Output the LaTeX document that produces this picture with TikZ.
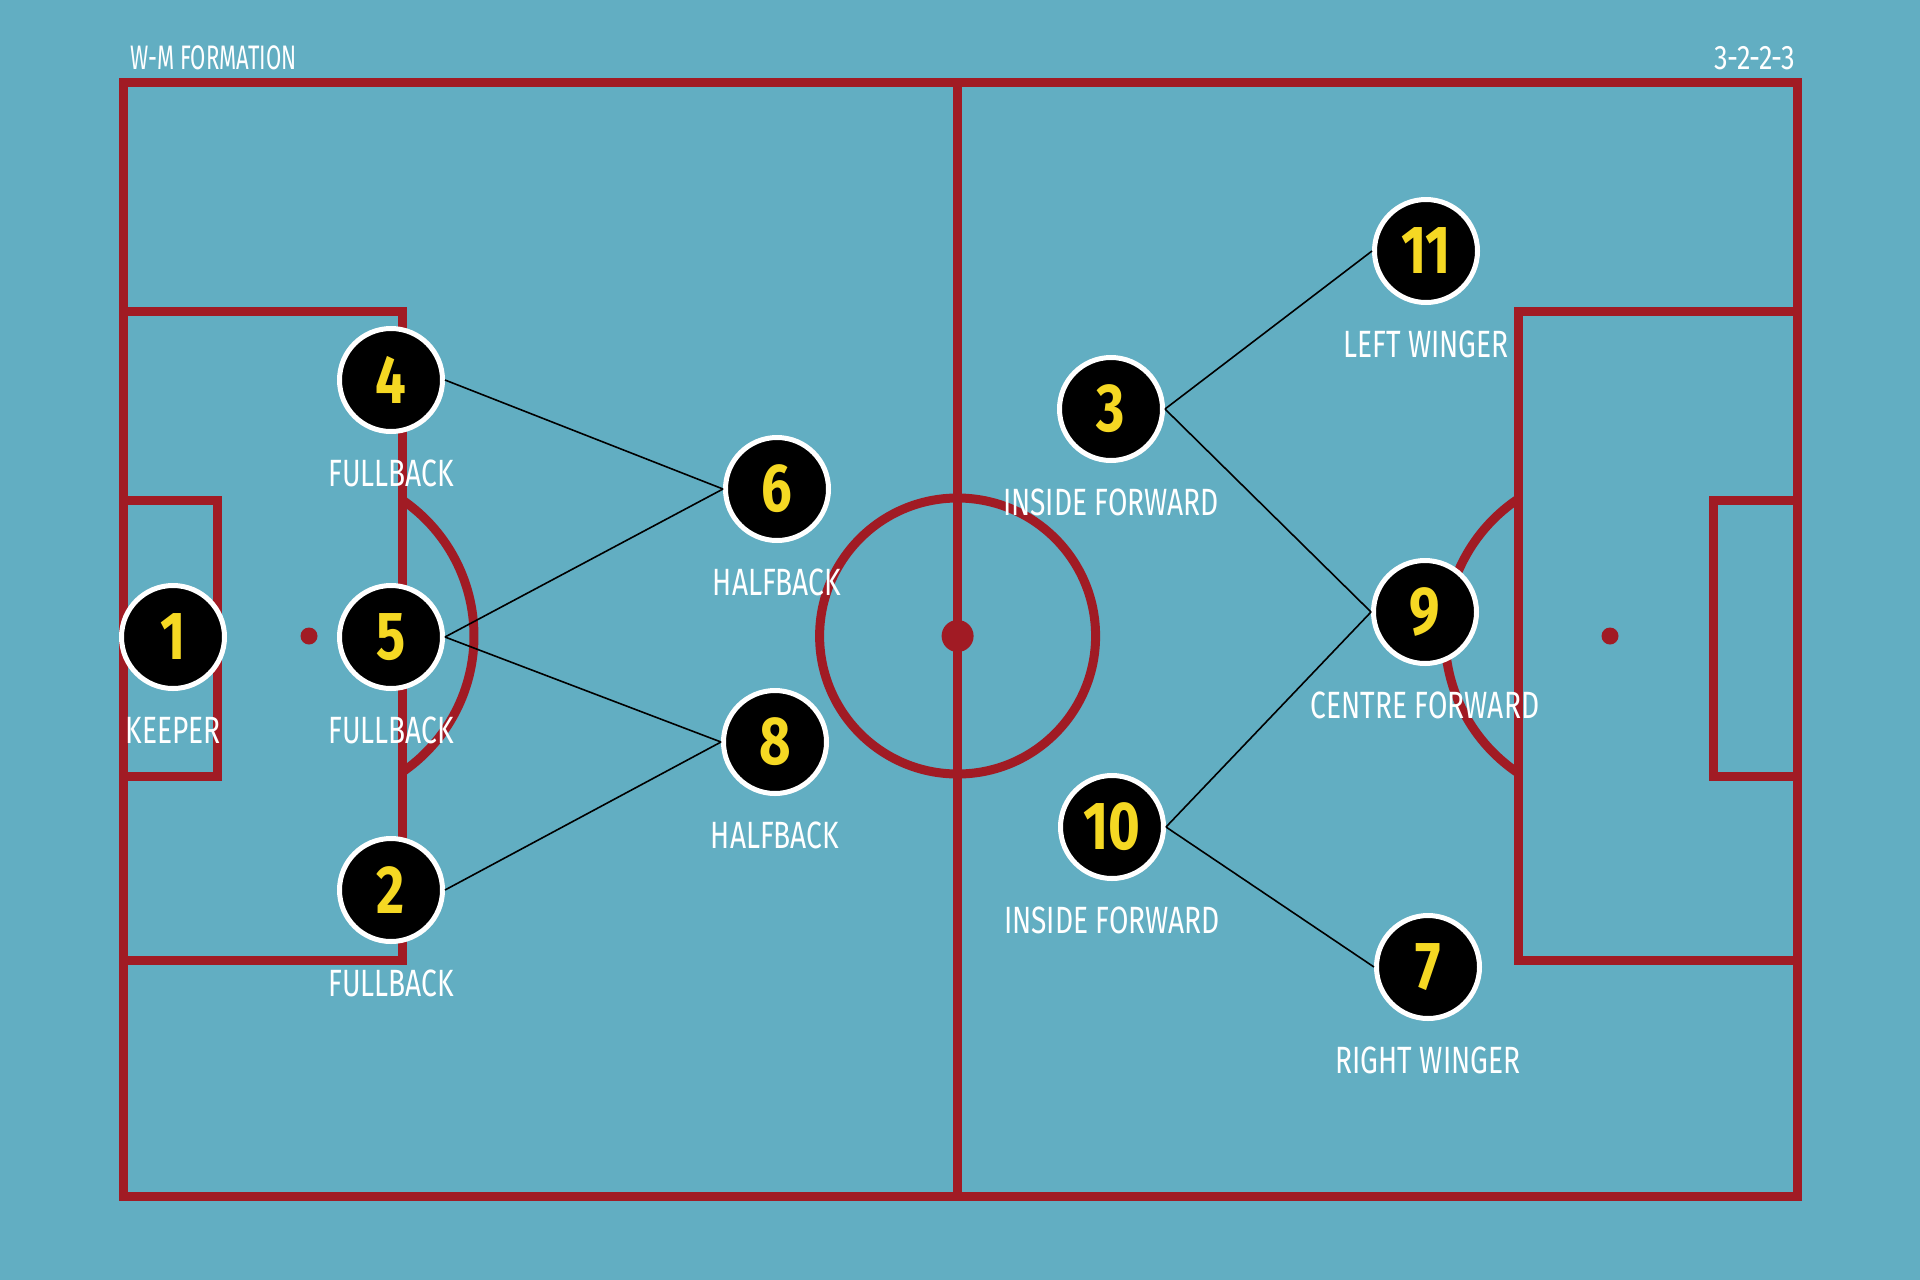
\documentclass[tikz,border=0pt]{standalone}
\usepackage{fontspec}
\newfontfamily\cf[FakeStretch=0.74]{Fira Sans}
\newfontfamily\ct[FakeStretch=0.65]{Fira Sans}
\newfontfamily\cn[FakeStretch=0.8]{Fira Sans}
\newfontfamily\cd[FakeStretch=0.8]{Fira Sans}
\definecolor{bg}{HTML}{62AEC2}
\definecolor{pr}{HTML}{A11B24}
\definecolor{ny}{HTML}{F5D823}
\begin{document}
\begin{tikzpicture}[x=1pt,y=-1pt,
  pline/.style={draw=pr,line width=9pt},
  player/.style={circle,fill=black,draw=white,line width=5pt,minimum size=103pt,inner sep=0pt,text=ny,font=\cd\bfseries\fontsize{68}{68}\selectfont},
  lbl/.style={text=white,inner sep=0pt,font=\cf\fontsize{38}{38}\selectfont},
  ttl/.style={text=white,inner sep=0pt,font=\ct\fontsize{34}{34}\selectfont},
  link/.style={draw=black,line width=1.6pt}]
\fill[bg] (0,0) rectangle (1920,1280);
\useasboundingbox (0,0) rectangle (1920,1280);
% pitch
\draw[pline] (123,82) rectangle (1797,1196);
\draw[pline] (957.6,82) -- (957.6,1196);
\draw[pline] (957.6,636) circle[radius=138];
\fill[pr] (957.6,636) circle[radius=16];
% left end
\draw[pline] (123,311) rectangle (402,960);
\draw[pline] (123,500) rectangle (217,776);
\fill[pr] (309,636) circle[radius=8.5];
\draw[pline] (309,636) ++(-55.7:165) arc[start angle=-55.7,end angle=55.7,radius=165];
% right end
\draw[pline] (1518,311) rectangle (1797,960);
\draw[pline] (1713,500) rectangle (1797,776);
\fill[pr] (1610,636) circle[radius=8.5];
\draw[pline] (1610,636) ++(124.3:165) arc[start angle=124.3,end angle=235.7,radius=165];
% titles
\node[ttl,anchor=west] (title) at (130,58) {W-M FORMATION};
\node[ttl,anchor=east,font=\cn\fontsize{34}{34}\selectfont] (system) at (1795,58) {3-2-2-3};
% players
\node[player] (p1) at (173,637) {1};
\node[player] (p4) at (391,380) {4};
\node[player] (p5) at (391,637) {5};
\node[player] (p2) at (391,890) {2};
\node[player] (p6) at (777,489) {6};
\node[player] (p8) at (775,742) {8};
\node[player] (p3) at (1111,409) {3};
\node[player] (p10) at (1112,827) {10};
\node[player] (p11) at (1426,251) {11};
\node[player] (p9) at (1425,612) {9};
\node[player] (p7) at (1428,967) {7};
% labels
\node[lbl] (l1) at (173,730) {KEEPER};
\node[lbl] (l4) at (391,473) {FULLBACK};
\node[lbl] (l5) at (391,730) {FULLBACK};
\node[lbl] (l2) at (391,983) {FULLBACK};
\node[lbl] (l6) at (777,582) {HALFBACK};
\node[lbl] (l8) at (775,835) {HALFBACK};
\node[lbl] (l3) at (1111,502) {INSIDE FORWARD};
\node[lbl] (l10) at (1112,920) {INSIDE FORWARD};
\node[lbl] (l11) at (1426,344) {LEFT WINGER};
\node[lbl] (l9) at (1425,705) {CENTRE FORWARD};
\node[lbl] (l7) at (1428,1060) {RIGHT WINGER};
% links
\draw[link] (p4.east) -- (p6.west);
\draw[link] (p5.east) -- (p6.west);
\draw[link] (p5.east) -- (p8.west);
\draw[link] (p2.east) -- (p8.west);
\draw[link] (p3.east) -- (p11.west);
\draw[link] (p3.east) -- (p9.west);
\draw[link] (p10.east) -- (p9.west);
\draw[link] (p10.east) -- (p7.west);
\end{tikzpicture}
\end{document}
